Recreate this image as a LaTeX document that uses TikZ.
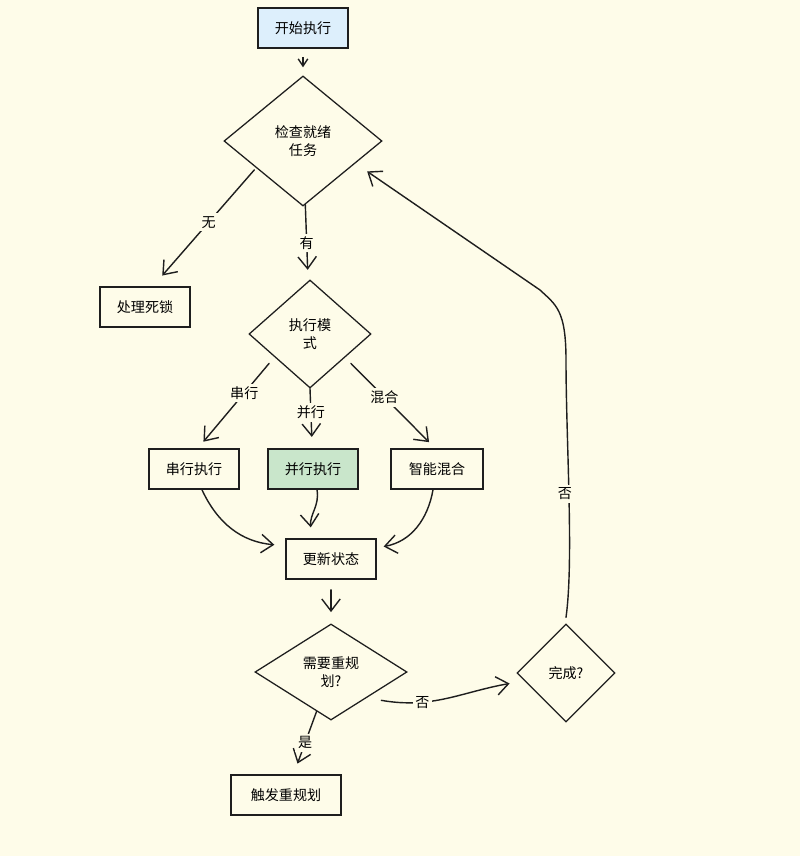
\documentclass[tikz,border=0pt]{standalone}
\usepackage{fontspec}
\newfontfamily\cjk{Noto Sans CJK SC}
\usepackage{tikz}
\usetikzlibrary{arrows.meta, shapes.geometric}

\definecolor{paper}{HTML}{FEFCE9}
\definecolor{startblue}{HTML}{DDEFFC}
\definecolor{pargreen}{HTML}{C9E6CB}
\definecolor{ink}{HTML}{1E1E1E}

\begin{document}
\begin{tikzpicture}[x=0.025cm, y=-0.025cm,
  box/.style={draw=ink, line width=1.2pt, fill=paper, minimum width=2.25cm,
              minimum height=1cm, font=\cjk\fontsize{10}{12}\selectfont},
  choice/.style={draw=ink, diamond, line width=0.9pt, fill=paper, inner sep=1pt,
                 align=center, font=\cjk\fontsize{10}{13}\selectfont},
  arr/.style={-{Straight Barb[length=3mm, width=4.6mm]}, line width=1pt,
              draw=ink, line cap=round, shorten >=2pt},
  lbl/.style={fill=paper, inner sep=2pt, font=\cjk\fontsize{10}{12}\selectfont}
]
  \fill[paper] (0,0) rectangle (800,856);

  \node[box, fill=startblue] (start) at (303,28)  {开始执行};
  \node[choice, minimum width=3.95cm, minimum height=3.25cm]
        (check)   at (303,141) {检查就绪\\任务};
  \node[box]  (dead)    at (145,307) {处理死锁};
  \node[choice, minimum width=3.05cm, minimum height=2.7cm]
        (mode)    at (310,334) {执行模\\式};
  \node[box]  (serial)  at (194,469) {串行执行};
  \node[box, fill=pargreen] (para) at (313,469) {并行执行};
  \node[box, minimum width=2.3cm] (smart) at (437,469) {智能混合};
  \node[box]  (update)  at (331,559) {更新状态};
  \node[choice, minimum width=3.8cm, minimum height=2.4cm]
        (replan)  at (331,672) {需要重规\\划?};
  \node[choice, minimum width=2.45cm, minimum height=2.45cm]
        (done)    at (566,673) {完成?};
  \node[box, minimum width=2.75cm] (trigger) at (286,795) {触发重规划};

  \draw[-{Straight Barb[length=1.8mm, width=2.4mm]}, line width=1pt, draw=ink,
        shorten <=0.2cm, shorten >=0.2cm] (start) -- (check);
  \draw[arr, shorten >=10pt] ([xshift=-0.22cm, yshift=0.1cm]check.south west)
        -- node[lbl, pos=0.45] (lnone) {无} ([xshift=0.2cm]dead.north);
  \draw[arr, shorten >=8pt] (check) -- node[lbl, pos=0.5] (lhas) {有} (mode);
  \draw[arr, shorten >=6pt] ([xshift=-0.25cm, yshift=-0.05cm]mode.south west)
        -- node[lbl, pos=0.35] (lser) {串行} ([xshift=0.1cm]serial.north);
  \draw[arr, shorten >=8pt] (mode.south) -- node[lbl, pos=0.4] (lpar) {并行} (para);
  \draw[arr, shorten >=6pt] ([xshift=0.25cm, yshift=-0.05cm]mode.south east)
        -- node[lbl, pos=0.4] (lmix) {混合} ([xshift=-0.05cm]smart.north);

  \draw[arr] ([xshift=0.2cm]serial.south) to[out=-65, in=175] ([yshift=0.35cm, xshift=-0.2cm]update.west);
  \draw[arr] ([xshift=0.1cm]para.south) to[out=-80, in=95] ([xshift=-0.5cm, yshift=0.2cm]update.north);
  \draw[arr] ([xshift=-0.1cm]smart.south) to[out=-100, in=10] ([yshift=0.3cm, xshift=0.1cm]update.east);

  \draw[arr, shorten <=0.25cm, shorten >=8pt] (update) -- (replan);
  \draw[arr, shorten >=8pt] (replan) -- node[lbl, pos=0.5] (lyes) {是} (trigger);
  \draw[arr] ([xshift=0.3cm, yshift=-0.1cm]replan.south east) to[out=-10, in=190]
        node[lbl, pos=0.3] (lno) {否} ([yshift=-0.25cm, xshift=-0.1cm]done.west);
  \draw[arr] ([yshift=0.15cm]done.north) .. controls (574,560) and (566,440) .. (566,360)
        .. controls (566,310) and (556,305) .. (540,290)
        -- ([xshift=0.55cm, yshift=0.1cm]check.south east);
  \node[lbl] (ldone) at (565,494) {否};
\end{tikzpicture}
\end{document}
